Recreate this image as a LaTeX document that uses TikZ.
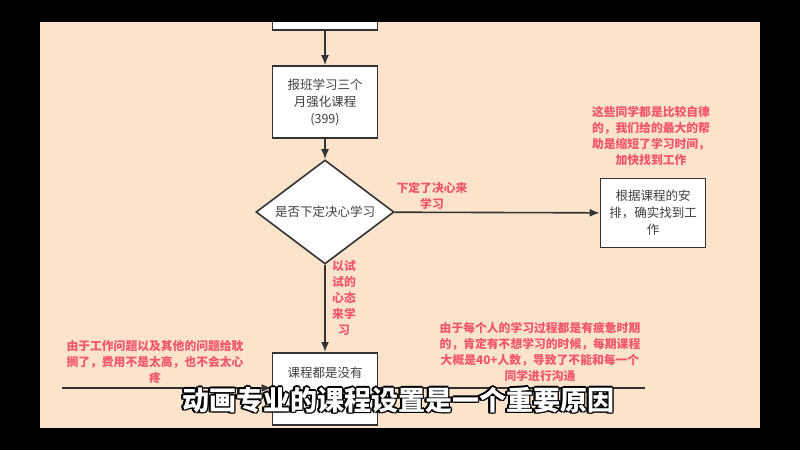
\documentclass[tikz,border=0pt]{standalone}
\usepackage{fontspec}
\setmainfont{Noto Sans CJK SC}
\usetikzlibrary{positioning, shapes.geometric, arrows.meta}
\definecolor{peach}{HTML}{FCE4CC}
\definecolor{notered}{HTML}{F2556E}
\definecolor{lineg}{HTML}{333333}
\begin{document}
\begin{tikzpicture}
    [
      x=1pt, y=-1pt,
      BOX/.style={rectangle, draw=lineg, fill=white, line width=1.6pt, minimum width=105pt, minimum height=72pt, align=center, font=\fontsize{12.5}{17}\selectfont, text=black!75},
      CHOICE/.style={diamond, draw=lineg, fill=white, line width=1.6pt, minimum width=138pt, minimum height=104pt, aspect=1.33, inner sep=0pt, font=\fontsize{12.5}{17}\selectfont, text=black!75},
      NOTE/.style={text=notered, align=center, font=\bfseries\fontsize{11.8}{16}\selectfont},
      FLOW/.style={-{Latex[length=10pt,width=8pt]}, line width=1.6pt, lineg},
      SUB/.style={font=\bfseries\fontsize{27}{30}\selectfont},
    ]
    \useasboundingbox (0,0) rectangle (800,450);
    \fill[black] (0,0) rectangle (800,450);
    \fill[peach] (40,22) rectangle (760,428);

    \begin{scope}
    \clip (40,22) rectangle (760,428);
    \node[BOX, minimum height=40pt] (signup) at (325,10) {};
    \node[BOX] (course) at (325,102) {报班学习三个\\月强化课程\\(399)};
    \node[CHOICE] (decide) at (325,212) {是否下定决心学习};
    \node[BOX, minimum height=69pt] (job) at (653,213) {根据课程的安\\排，确实找到工\\作};
    \node[BOX, anchor=north] (trial) at (325,352) {课程都是没有\\\\};

    \draw[FLOW] (signup) to (course);
    \draw[FLOW] (course) to (decide);
    \draw[FLOW] (decide) to (job);
    \draw[FLOW] (decide) to (trial);
    \coordinate (leftend) at (62,388);
    \coordinate (rightend) at (645,388);
    \draw[FLOW] (leftend) to (trial.west |- leftend);
    \draw[line width=1.6pt, lineg] (trial.east |- rightend) to (rightend);
    \end{scope}

    \node[NOTE] (decidenote) at (432,196) {下定了决心来\\学习};
    \node[NOTE] (jobnote) at (651,136) {这些同学都是比较自律\\的，我们给的最大的帮\\助是缩短了学习时间，\\加快找到工作};
    \node[NOTE] (trialnote) at (344,298) {以试\\试的\\心态\\来学\\习};
    \node[NOTE] (leftnote) at (155,362) {由于工作问题以及其他的问题给耽\\搁了，费用不是太高，也不会太心\\疼};
    \node[NOTE] (rightnote) at (540,352) {由于每个人的学习过程都是有疲惫时期\\的，肯定有不想学习的时候，每期课程\\大概是40+人数，导致了不能和每一个\\同学进行沟通};

    % subtitle with dark outline
    \foreach \dx/\dy in {-1.5/0, 1.5/0, 0/-1.5, 0/1.5, -1.1/-1.1, 1.1/1.1, -1.1/1.1, 1.1/-1.1}
      \node[SUB, text=black] at (398+\dx,400+\dy) {动画专业的课程设置是一个重要原因};
    \node[SUB, text=white] (subtitle) at (398,400) {动画专业的课程设置是一个重要原因};
\end{tikzpicture}
\end{document}
